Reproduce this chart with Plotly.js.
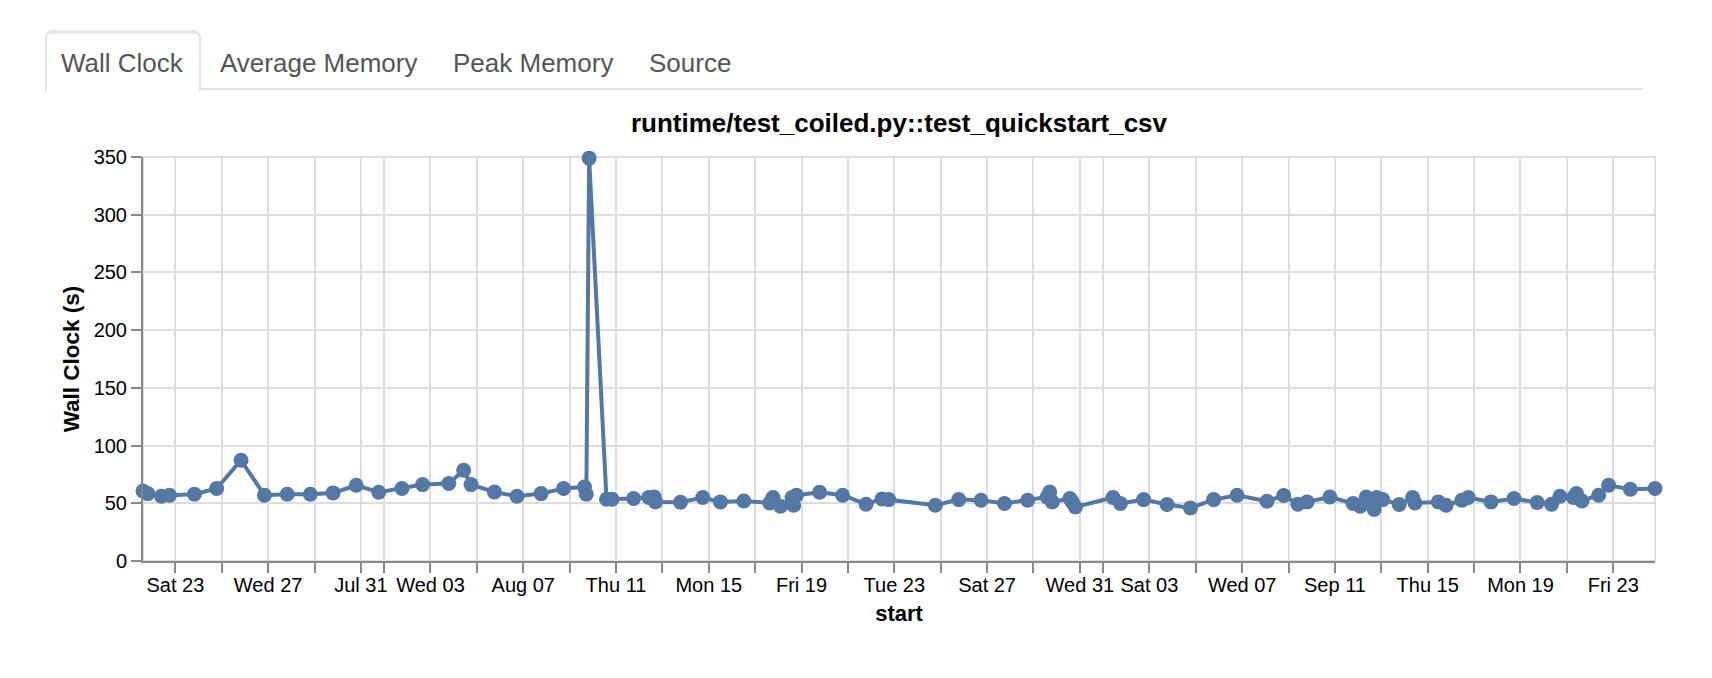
<!DOCTYPE html>
<html>
<head>
<meta charset="utf-8">
<script src="https://cdn.plot.ly/plotly-3.0.1.min.js"></script>
<style>
  html, body { margin:0; padding:0; background:#fff; }
  body { width:1712px; height:678px; position:relative; overflow:hidden; font-family:"Liberation Sans", Arial, Helvetica, sans-serif; }
  #chart { position:absolute; left:0; top:0; width:1712px; height:678px; }
  #tabbar { position:absolute; left:45px; top:88px; width:1598px; height:0; border-top:2px solid #e2e2e2; }
  #activetab { position:absolute; left:45px; top:30px; width:156px; background:#fff;
    border:2px solid #e6e6e6; border-top:4px solid #e6e6e6; border-bottom:none; border-radius:7px 7px 0 0; box-sizing:border-box; z-index:2; height:61px; }
  .tab { position:absolute; top:48px; font-size:26px; line-height:30px; color:#555; white-space:nowrap; z-index:3; }
</style>
</head>
<body>
<div id="chart"></div>
<div id="tabbar"></div>
<div id="activetab"></div>
<span class="tab" style="left:61px;">Wall Clock</span>
<span class="tab" style="left:220px;">Average Memory</span>
<span class="tab" style="left:453px;">Peak Memory</span>
<span class="tab" style="left:649px;">Source</span>
<script>
const chartTitle = "runtime/test_coiled.py::test_quickstart_csv";
const xTitle = "start";
const yTitle = "Wall Clock (s)";

const starts = [
  "2022-07-21 14:30","2022-07-21 19:26","2022-07-22 09:36","2022-07-22 18:00","2022-07-23 19:41",
  "2022-07-24 18:43","2022-07-25 19:55","2022-07-26 20:10","2022-07-27 19:41","2022-07-28 19:41",
  "2022-07-29 19:12","2022-07-30 19:12","2022-07-31 18:29","2022-08-01 18:29","2022-08-02 15:50",
  "2022-08-03 18:58","2022-08-04 10:19","2022-08-04 18:00","2022-08-05 18:14","2022-08-06 17:31",
  "2022-08-07 18:29","2022-08-08 17:46","2022-08-09 15:22","2022-08-09 17:17","2022-08-09 20:10",
  "2022-08-10 14:10","2022-08-10 19:55","2022-08-11 18:14","2022-08-12 09:50","2022-08-12 15:36",
  "2022-08-12 16:48","2022-08-13 18:43","2022-08-14 17:46","2022-08-15 12:00","2022-08-16 12:14",
  "2022-08-17 15:07","2022-08-17 18:29","2022-08-18 02:10","2022-08-18 14:10","2022-08-18 15:50",
  "2022-08-18 18:43","2022-08-19 18:43","2022-08-20 18:29","2022-08-21 18:43","2022-08-22 11:17",
  "2022-08-22 18:14","2022-08-24 18:29","2022-08-25 18:43","2022-08-26 17:46","2022-08-27 18:00",
  "2022-08-28 18:00","2022-08-29 14:10","2022-08-29 16:48","2022-08-29 19:26","2022-08-30 13:41",
  "2022-08-30 16:05","2022-08-30 19:26","2022-09-01 10:19","2022-09-01 18:00","2022-09-02 18:00",
  "2022-09-03 18:14","2022-09-04 18:29","2022-09-05 18:29","2022-09-06 18:43","2022-09-08 01:41",
  "2022-09-08 18:58","2022-09-09 09:36","2022-09-09 19:12","2022-09-10 18:43","2022-09-11 18:43",
  "2022-09-12 02:10","2022-09-12 08:24","2022-09-12 12:29","2022-09-12 16:34","2022-09-12 19:12",
  "2022-09-13 01:26","2022-09-13 18:29","2022-09-14 08:24","2022-09-14 10:48","2022-09-15 11:02",
  "2022-09-15 18:58","2022-09-16 11:17","2022-09-16 18:00","2022-09-17 17:31","2022-09-18 17:17",
  "2022-09-19 17:17","2022-09-20 08:10","2022-09-20 16:48","2022-09-21 06:43","2022-09-21 09:50",
  "2022-09-21 15:36","2022-09-22 08:53","2022-09-22 19:12","2022-09-23 17:46","2022-09-24 19:12"
];
const wallClock = [
  60.7,58.4,56.1,57.0,57.8,
  62.8,87.3,57.0,57.8,57.8,
  59.0,65.6,59.6,62.8,66.2,
  67.1,78.6,66.2,59.8,56.1,
  58.4,62.8,64.2,57.8,349.0,
  53.5,53.5,54.1,55.0,55.5,
  51.2,50.9,55.0,51.2,52.0,
  50.3,55.0,47.4,55.0,48.3,
  57.0,59.6,57.0,49.2,53.8,
  53.2,48.3,53.2,52.6,49.8,
  52.6,55.5,59.8,51.2,54.1,
  51.2,46.8,55.0,49.8,53.2,
  48.9,46.0,53.2,57.0,51.8,
  56.7,49.2,51.2,55.5,49.8,
  47.4,55.5,50.3,44.6,55.0,
  53.2,48.9,55.0,50.3,51.2,
  48.3,52.6,55.0,51.2,54.1,
  50.6,49.2,56.1,55.0,58.4,
  52.0,57.0,65.6,62.2,62.8
];
const tickDates = [
  "2022-07-23","2022-07-25","2022-07-27","2022-07-29","2022-07-31",
  "2022-08-01","2022-08-03","2022-08-05","2022-08-07","2022-08-09","2022-08-11","2022-08-13",
  "2022-08-15","2022-08-17","2022-08-19","2022-08-21","2022-08-23","2022-08-25","2022-08-27",
  "2022-08-29","2022-08-31","2022-09-01","2022-09-03","2022-09-05","2022-09-07","2022-09-09",
  "2022-09-11","2022-09-13","2022-09-15","2022-09-17","2022-09-19","2022-09-21","2022-09-23"
];
const tickLabels = [
  "Sat 23","","Wed 27","","Jul 31",
  "","Wed 03","","Aug 07","","Thu 11","",
  "Mon 15","","Fri 19","","Tue 23","","Sat 27",
  "","Wed 31","","Sat 03","","Wed 07","",
  "Sep 11","","Thu 15","","Mon 19","","Fri 23"
];
const yTicks = [0,50,100,150,200,250,300,350];

const lineColor = "#5378a6";
const font = "Liberation Sans, Arial, Helvetica, sans-serif";

const trace = {
  x: starts, y: wallClock, type: "scatter", mode: "lines+markers",
  line: {color: lineColor, width: 4},
  marker: {color: lineColor, size: 15},
  cliponaxis: false, hoverinfo: "none"
};

const layout = {
  width: 1712, height: 678,
  margin: {l: 143, r: 57, t: 157, b: 117, pad: 0},
  paper_bgcolor: "#fff", plot_bgcolor: "#fff",
  showlegend: false,
  font: {family: font, color: "#000", size: 20},
  title: {text: chartTitle, font: {family: font, size: 26, weight: "bold", color: "#000"},
          x: 0.5, xref: "paper", xanchor: "center", y: 1 - 123/678, yref: "container", yanchor: "middle"},
  xaxis: {
    type: "date", range: [starts[0], starts[starts.length-1]],
    tickmode: "array", tickvals: tickDates, ticktext: tickLabels,
    showgrid: true, gridcolor: "#dddddd", gridwidth: 2,
    showline: true, linecolor: "#888", linewidth: 2,
    ticks: "outside", ticklen: 10, tickwidth: 2, tickcolor: "#888",
    tickfont: {family: font, size: 20, color: "#000"},
    ticklabelstandoff: -5,
    zeroline: false,
    title: {text: xTitle, font: {family: font, size: 22, weight: "bold", color: "#000"}, standoff: 11}
  },
  yaxis: {
    range: [0, 350], tickmode: "array", tickvals: yTicks,
    showgrid: true, gridcolor: "#dddddd", gridwidth: 2,
    showline: true, linecolor: "#888", linewidth: 2,
    ticks: "outside", ticklen: 10, tickwidth: 2, tickcolor: "#888",
    tickfont: {family: font, size: 20, color: "#000"},
    zeroline: false,
    title: {text: yTitle, font: {family: font, size: 22.5, weight: "bold", color: "#000"}, standoff: 8}
  },
  shapes: [{type: "rect", xref: "paper", yref: "paper", x0: 0, x1: 1, y0: 0, y1: 1,
            line: {color: "#dddddd", width: 2}, layer: "below"}]
};

Plotly.newPlot("chart", [trace], layout, {displayModeBar: false, staticPlot: true});
</script>
</body>
</html>
